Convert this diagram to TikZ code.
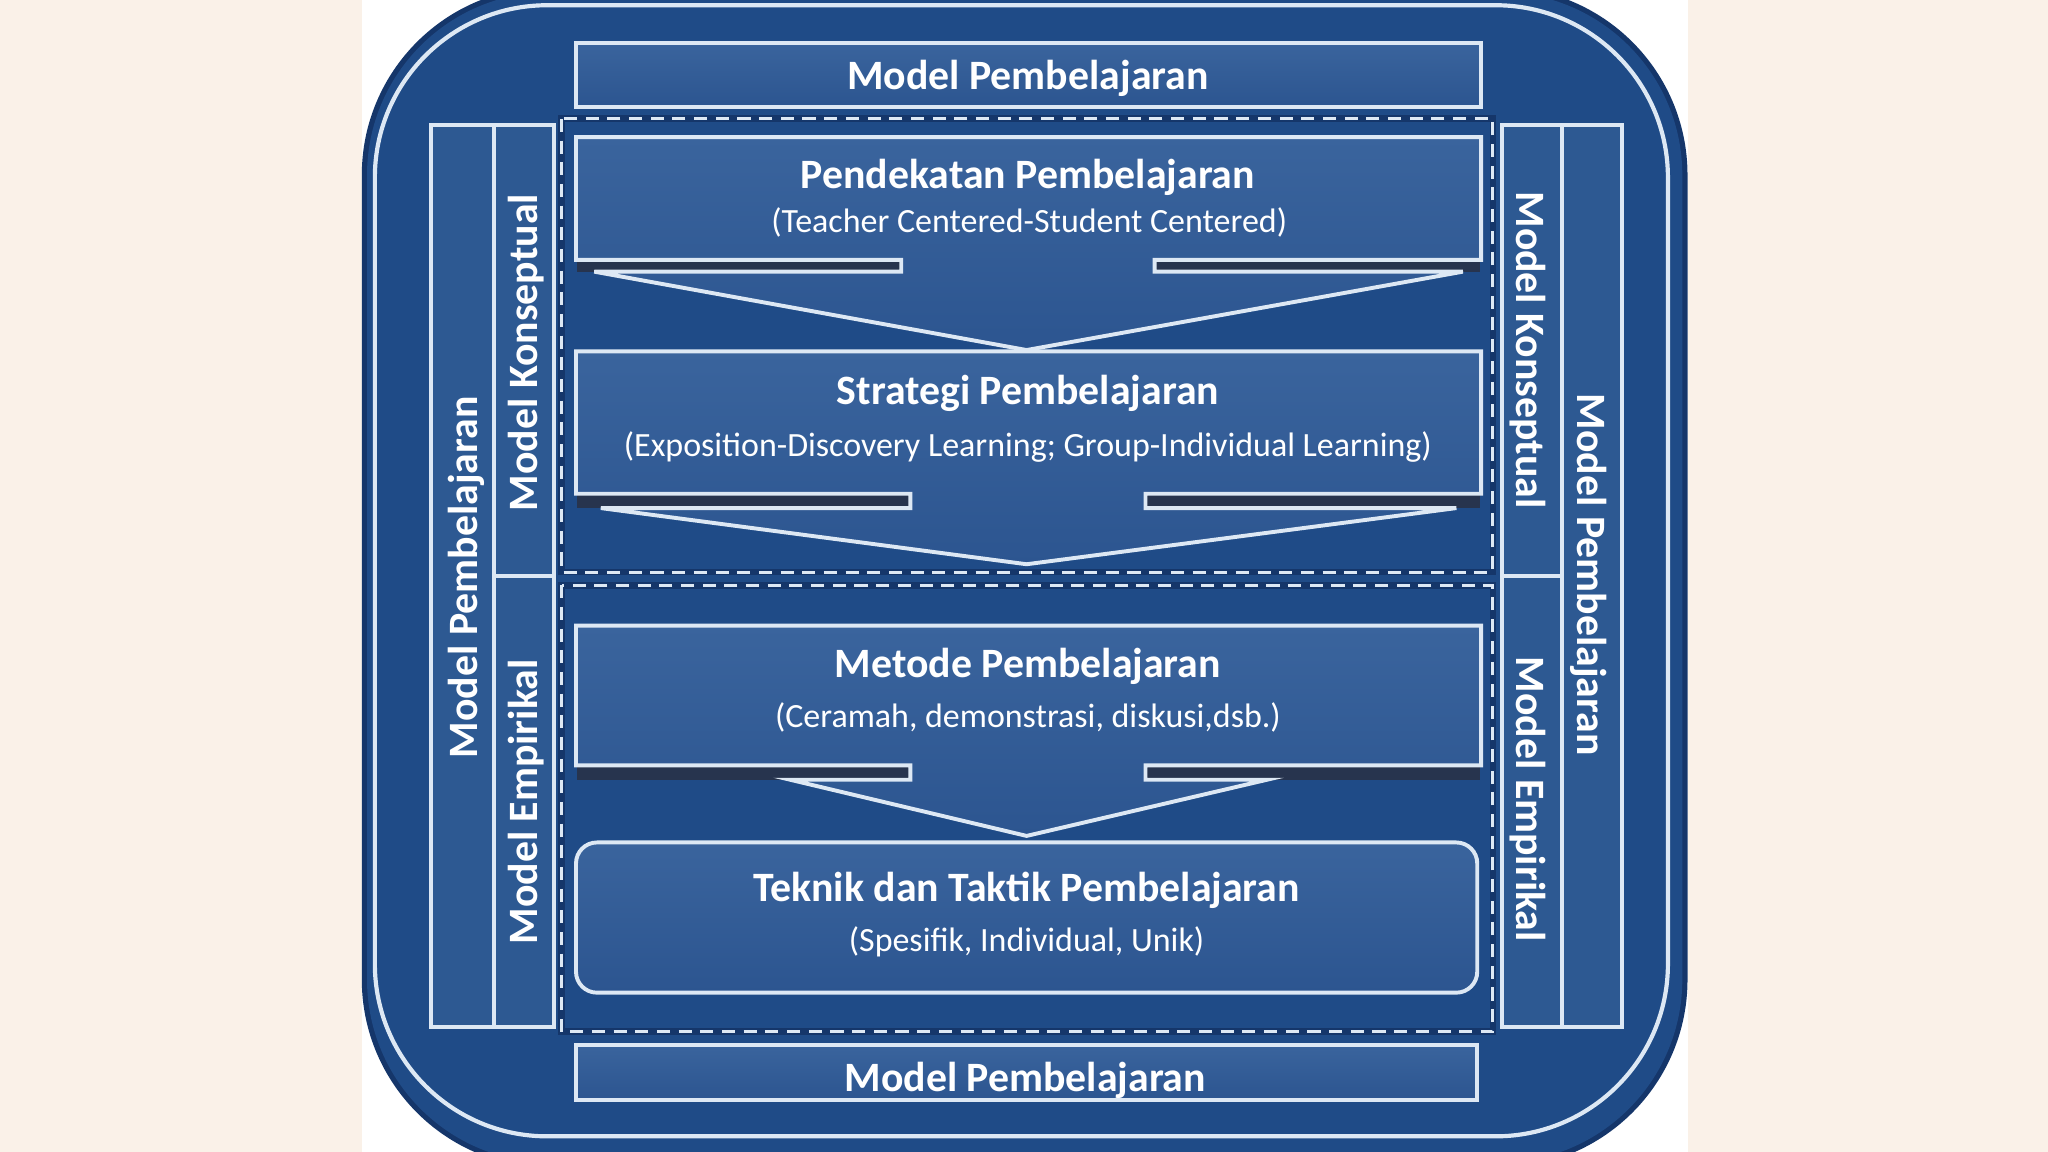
\documentclass[tikz,border=0pt]{standalone}
\usepackage{fontspec}
\setmainfont{Carlito}
\definecolor{cream}{HTML}{FAF1E8}
\definecolor{bgblue}{HTML}{1F4B87}
\definecolor{boxblueA}{HTML}{3A649D}
\definecolor{boxblueB}{HTML}{2C5590}
\definecolor{barblue}{HTML}{2D5992}
\definecolor{wline}{HTML}{DDE8F4}
\definecolor{strip}{HTML}{27344E}
\definecolor{rim}{HTML}{15366A}
\begin{document}
\begin{tikzpicture}[x=0.5pt,y=-0.5pt,
  wl/.style={draw=wline,line width=1.5pt},
  boxfill/.style={top color=boxblueA,bottom color=boxblueB},
  barfill/.style={fill=barblue},
  ttl/.style={text=white,font=\bfseries\fontsize{16}{19}\selectfont,inner sep=0pt},
  sub/.style={text=white,font=\fontsize{13}{16}\selectfont,inner sep=0pt},
  dashfront/.style={draw=wline,line width=1.1pt,dash pattern=on 5pt off 3.3pt},
  dashback/.style={draw=rim,line width=2.6pt},
]
\useasboundingbox (0,0) rectangle (1568,882);
\fill[cream] (0,0) rectangle (1568,882);
\fill[white] (277,0) rectangle (1292,882);
\begin{scope}
  \clip (0,0) rectangle (1568,882);
  \fill[rim, rounded corners=72pt] (277,-10) rectangle (1292,894);
  \fill[bgblue, rounded corners=70pt] (281,-6) rectangle (1288,890);
  \draw[wline, line width=1.6pt, rounded corners=66pt] (287,4) rectangle (1277,870);
\end{scope}

% dashed regions
\foreach \r in {{(430,91) rectangle (1143,438)},{(430,448) rectangle (1143,790)}}{
  \draw[dashback] \r;
  \draw[dashfront] \r;
}

% side bars
\draw[wl,barfill] (330,96) rectangle (378,786);
\draw[wl,barfill] (378,96) rectangle (424,786);
\draw[wl] (378,441) -- (424,441);
\draw[wl,barfill] (1150,96) rectangle (1196,786);
\draw[wl,barfill] (1196,96) rectangle (1242,786);
\draw[wl] (1150,441) -- (1196,441);

% top and bottom boxes
\draw[wl,boxfill] (441,33) rectangle (1134,82);
\draw[wl,boxfill] (441,800) rectangle (1131,842);

% level 1
\path[boxfill] (441,105) -- (1134,105) -- (1134,199) -- (884,199) -- (884,208) -- (1120,208) -- (786,268) -- (455,208) -- (690,208) -- (690,199) -- (441,199) -- cycle;
\fill[strip] (442,200) rectangle (690,208);
\fill[strip] (884,200) rectangle (1133,208);
\draw[wl,line join=miter] (441,199) -- (441,105) -- (1134,105) -- (1134,199) -- (884,199) -- (884,208) -- (1120,208) -- (786,268) -- (455,208) -- (690,208) -- (690,199) -- cycle;

% level 2
\path[boxfill] (441,269) -- (1134,269) -- (1134,378) -- (877,378) -- (877,389) -- (1115,389) -- (786,432) -- (460,389) -- (697,389) -- (697,378) -- (441,378) -- cycle;
\fill[strip] (442,379) rectangle (697,389);
\fill[strip] (877,379) rectangle (1133,389);
\draw[wl,line join=miter] (441,378) -- (441,269) -- (1134,269) -- (1134,378) -- (877,378) -- (877,389) -- (1115,389) -- (786,432) -- (460,389) -- (697,389) -- (697,378) -- cycle;

% level 3
\path[boxfill] (441,479) -- (1134,479) -- (1134,586) -- (877,586) -- (877,597) -- (970,597) -- (786,640) -- (605,597) -- (697,597) -- (697,586) -- (441,586) -- cycle;
\fill[strip] (442,587) rectangle (697,597);
\fill[strip] (877,587) rectangle (1133,597);
\draw[wl,line join=miter] (441,586) -- (441,479) -- (1134,479) -- (1134,586) -- (877,586) -- (877,597) -- (970,597) -- (786,640) -- (605,597) -- (697,597) -- (697,586) -- cycle;

% level 4
\draw[wl,boxfill,rounded corners=8pt] (441,645) rectangle (1131,760);

% texts
\node[ttl] (top) at (787,60) {Model Pembelajaran};
\node[ttl] (pend) at (787,136) {Pendekatan Pembelajaran};
\node[sub] (pendsub) at (788,170) {(Teacher Centered-Student Centered)};
\node[ttl] (strat) at (787,301) {Strategi Pembelajaran};
\node[sub] (stratsub) at (787,342) {(Exposition-Discovery Learning; Group-Individual Learning)};
\node[ttl] (met) at (787,510) {Metode Pembelajaran};
\node[sub] (metsub) at (787,549) {(Ceramah, demonstrasi, diskusi,dsb.)};
\node[ttl] (tek) at (786,682) {Teknik dan Taktik Pembelajaran};
\node[sub] (teksub) at (786,721) {(Spesifik, Individual, Unik)};
\node[ttl] (bot) at (785,827) {Model Pembelajaran};

\node[ttl,rotate=90] (lmp) at (357,442) {Model Pembelajaran};
\node[ttl,rotate=90] (lmk) at (403,270) {Model Konseptual};
\node[ttl,rotate=90] (lme) at (403,614) {Model Empirikal};
\node[ttl,rotate=-90] (rmk) at (1170,268) {Model Konseptual};
\node[ttl,rotate=-90] (rme) at (1170,612) {Model Empirikal};
\node[ttl,rotate=-90] (rmp) at (1216,440) {Model Pembelajaran};
\end{tikzpicture}
\end{document}
